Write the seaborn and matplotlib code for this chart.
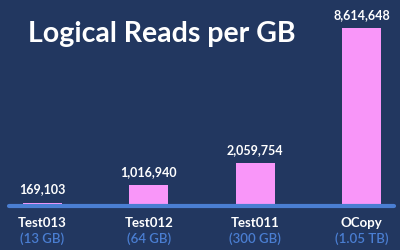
import matplotlib
matplotlib.use("Agg")
import matplotlib.pyplot as plt
import matplotlib.transforms as mtransforms
import seaborn as sns

categories = ["Test013", "Test012", "Test011", "OCopy"]
sizes = ["(13 GB)", "(64 GB)", "(300 GB)", "(1.05 TB)"]
values = [169103, 1016940, 2059754, 8614648]
value_labels = ["169,103", "1,016,940", "2,059,754", "8,614,648"]
title = "Logical Reads per GB"

BG = "#223760"
PINK = "#F996F9"
BLUE = "#4A7ED2"

sns.set_style("white")
plt.rcParams["font.family"] = ["Lato", "DejaVu Sans"]

fig = plt.figure(figsize=(4, 2.5), dpi=100, facecolor=BG)
ax = fig.add_axes([9 / 400, 44 / 250, 385 / 400, 178 / 250])
ax.set_facecolor(BG)

sns.barplot(x=categories, y=values, color=PINK, width=0.367, saturation=1,
            linewidth=0, edgecolor="none", ax=ax, zorder=2)
ax.set_xlim(-0.315, 3.306)
ax.set_ylim(0, max(values))
ax.axhline(0, color=BLUE, lw=3, zorder=3, clip_on=False)

for s in ax.spines.values():
    s.set_visible(False)
ax.set_xticks([])
ax.set_yticks([])
ax.set_xlabel("")
ax.set_ylabel("")

for i, (v, lab) in enumerate(zip(values, value_labels)):
    ax.annotate(lab, xy=(i, v), xytext=(0, 6.5), textcoords="offset points",
                ha="center", va="baseline", color="white", fontsize=9,
                fontweight="bold", annotation_clip=False)

trans = mtransforms.blended_transform_factory(ax.transData, ax.transAxes)
for i, (c, s) in enumerate(zip(categories, sizes)):
    ax.text(i, -0.118, c, transform=trans, ha="center", va="baseline",
            color="white", fontsize=9.5, fontweight="bold")
    ax.text(i, -0.21, s, transform=trans, ha="center", va="baseline",
            color=BLUE, fontsize=9.5, fontweight="semibold")

fig.text(28 / 400, 1 - 42 / 250, title, ha="left", va="baseline",
         color="white", fontsize=20.5, fontweight="bold")

fig.savefig("out.png", dpi=100, facecolor=BG)
